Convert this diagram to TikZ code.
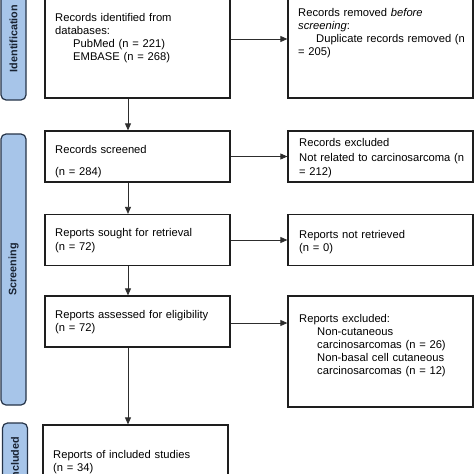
\documentclass[tikz,border=0pt]{standalone}
\usepackage{fontspec}
\setmainfont{Liberation Sans}
\usetikzlibrary{arrows.meta,calc}
\definecolor{labfill}{RGB}{167,197,233}
\definecolor{labdraw}{RGB}{38,52,72}
\definecolor{labtext}{RGB}{25,35,50}
\definecolor{boxdraw}{RGB}{30,30,30}
\definecolor{arrcol}{RGB}{45,45,45}
\begin{document}
\begin{tikzpicture}[x=1pt,y=-1pt,
  box/.style={draw=boxdraw,line width=1.3pt,inner sep=0,minimum width=185,minimum height=#1},
  lab/.style={draw=labdraw,fill=labfill,line width=1.2pt,rounded corners=5pt,rotate=90,
    minimum height=25,minimum width=#1,inner sep=0,text=labtext,
    font=\fontsize{10.8}{12}\selectfont\bfseries},
  txt/.style={anchor=base west,inner sep=0,text width=180pt,align=left,
    font=\fontsize{11.2}{13}\selectfont},
  arr/.style={draw=arrcol,line width=0.8pt,-{Triangle[length=7pt,width=6pt]}}]
\useasboundingbox (0,0) rectangle (474,474);
\fill[white] (0,0) rectangle (474,474);
% phase labels
\node[lab=123] (l1) at (13.5,38.5) {Identification};
\node[lab=271] (l2) at (13.5,269.5) {Screening};
\node[lab=72] (l3) at (15,459) {Included};
% left column boxes
\node[box=118] (b1) at (137.5,39) {};
\node[box=51] (b2) at (137.5,156.5) {};
\node[box=51] (b3) at (137.5,240) {};
\node[box=51] (b4) at (137.5,321.5) {};
\node[box=75] (b5) at (135.5,462.5) {};
% right column boxes
\node[box=118] (r1) at (380.5,39) {};
\node[box=51] (r2) at (380.5,156.5) {};
\node[box=51] (r3) at (380.5,240) {};
\node[box=111] (r4) at (380.5,351.5) {};
% texts
\node[txt] (t1) at (55,21.5) {Records identified from\\databases:\\\hspace*{18pt}PubMed (n = 221)\\\hspace*{18pt}EMBASE (n = 268)};
\node[txt] (u1) at (298,16.5) {Records removed \textit{before}\\\textit{screening}:\\\hspace*{18pt}Duplicate records removed (n\\= 205)};
\node[txt] (t2) at (55,153.5) {Records screened\\[9pt](n = 284)};
\node[txt] (u2) at (299,146.5) {Records excluded\\[1.5pt]Not related to carcinosarcoma (n\\[1.5pt]= 212)};
\node[txt] (t3) at (55,236.5) {Reports sought for retrieval\\[1pt](n = 72)};
\node[txt] (u3) at (299,238.5) {Reports not retrieved\\(n = 0)};
\node[txt] (t4) at (55,318.5) {Reports assessed for eligibility\\(n = 72)};
\node[txt] (u4) at (299,322.5) {Reports excluded:\\\hspace*{18pt}Non-cutaneous\\\hspace*{18pt}carcinosarcomas (n = 26)\\\hspace*{18pt}Non-basal cell cutaneous\\\hspace*{18pt}carcinosarcomas (n = 12)};
\node[txt] (t5) at (53,458.5) {Reports of included studies\\(n = 34)};
% connectors
\coordinate (col) at (128,0);
\draw[arr] (b1.south -| col) -- (b2.north -| col);
\draw[arr] (b2.south -| col) -- (b3.north -| col);
\draw[arr] (b3.south -| col) -- (b4.north -| col);
\draw[arr] (b4.south -| col) -- (b5.north -| col);
\draw[arr] (b1.east) -- (r1.west);
\draw[arr] (b2.east) -- (r2.west);
\draw[arr] (b3.east) -- (r3.west);
\coordinate (a4) at (230,323);
\draw[arr] (b4.east |- a4) -- (r4.west |- a4);
\end{tikzpicture}
\end{document}
